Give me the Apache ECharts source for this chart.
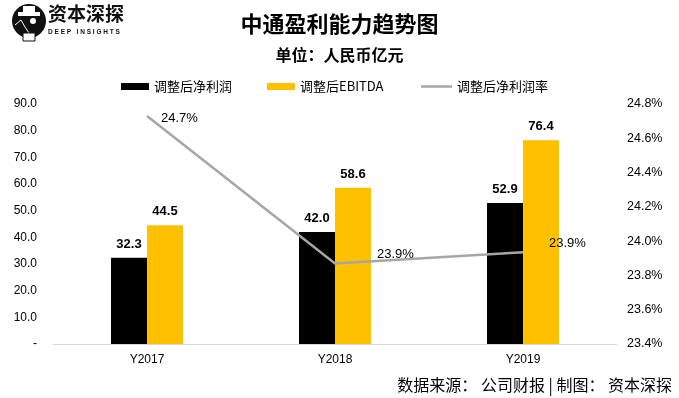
<!DOCTYPE html>
<html><head><meta charset="utf-8">
<script src="https://cdn.jsdelivr.net/npm/echarts@6/dist/echarts.min.js"></script>
<style>html,body{margin:0;padding:0;background:#fff}#c{width:679px;height:398px}</style>
</head><body><div id="c"></div>
<script>
const categories = ['Y2017', 'Y2018', 'Y2019'];
const netProfit = [32.3, 42.0, 52.9];
const ebitda = [44.5, 58.6, 76.4];
const netMargin = [24.73, 23.87, 23.935];
const leftTicks = { min: 0, max: 90, interval: 10 };
const rightTicks = { min: 23.4, max: 24.8, interval: 0.2 };
const seriesNames = ['调整后净利润', '调整后EBITDA', '调整后净利润率'];
const marginLabelOffsets = [[2, 2], [30, -9], [14, -9]];

const CJK = '"Noto Sans CJK SC", sans-serif';
const LAT = '"Liberation Sans", Arial, sans-serif';
const chart = echarts.init(document.getElementById('c'), null, { renderer: 'canvas' });
chart.setOption({
  backgroundColor: '#fff',
  animation: false,
  title: [
    { text: '中通盈利能力趋势图', left: 'center', top: 8,
      textStyle: { fontFamily: CJK, fontSize: 22, fontWeight: 'bold', color: '#000' } },
    { text: '单位：人民币亿元', left: 'center', top: 42,
      textStyle: { fontFamily: CJK, fontSize: 16, fontWeight: 'bold', color: '#000' } },
    { text: '数据来源： 公司财报 | 制图： 资本深探', right: 2, top: 372,
      textStyle: { fontFamily: CJK, fontSize: 16, fontWeight: 'normal', color: '#000' } }
  ],
  legend: [
    { left: 121, top: 80, padding: 0, itemWidth: 28, itemHeight: 7, itemGap: 35,
      textStyle: { fontFamily: CJK, fontSize: 13, color: '#000' },
      data: [
        { name: seriesNames[0], icon: 'rect' },
        { name: seriesNames[1], icon: 'rect' }
      ] },
    { left: 421, top: 80, padding: 0, itemWidth: 31, itemHeight: 2.5,
      textStyle: { fontFamily: CJK, fontSize: 13, color: '#000' },
      data: [ { name: seriesNames[2], icon: 'rect' } ] }
  ],
  grid: { left: 53, right: 62, top: 104, bottom: 54 },
  xAxis: {
    type: 'category', data: categories,
    axisLine: { lineStyle: { color: '#D9D9D9', width: 1 } },
    axisTick: { show: false },
    axisLabel: { fontFamily: LAT, fontSize: 12, color: '#000', margin: 10 }
  },
  yAxis: [
    { type: 'value', min: leftTicks.min, max: leftTicks.max, interval: leftTicks.interval,
      splitLine: { show: false }, axisLine: { show: false }, axisTick: { show: false },
      axisLabel: { fontFamily: LAT, fontSize: 12, color: '#000', margin: 16,
        formatter: v => v === 0 ? '-' : v.toFixed(1) } },
    { type: 'value', min: rightTicks.min, max: rightTicks.max, interval: rightTicks.interval,
      position: 'right',
      splitLine: { show: false }, axisLine: { show: false }, axisTick: { show: false },
      axisLabel: { fontFamily: LAT, fontSize: 12.5, color: '#000', margin: 10,
        formatter: v => v.toFixed(1) + '%' } }
  ],
  series: [
    { name: seriesNames[0], type: 'bar', data: netProfit, barWidth: 36, barGap: '0%',
      itemStyle: { color: '#000000' },
      label: { show: true, position: 'top', distance: 7, fontFamily: LAT, fontSize: 13, fontWeight: 'bold', color: '#000',
        formatter: p => p.value.toFixed(1) } },
    { name: seriesNames[1], type: 'bar', data: ebitda, barWidth: 36,
      itemStyle: { color: '#FFC000' },
      label: { show: true, position: 'top', distance: 7, fontFamily: LAT, fontSize: 13, fontWeight: 'bold', color: '#000',
        formatter: p => p.value.toFixed(1) } },
    { name: seriesNames[2], type: 'line', yAxisIndex: 1, symbol: 'circle', symbolSize: 0.01, showSymbol: true,
      data: netMargin.map((v, i) => ({ value: v, label: { offset: marginLabelOffsets[i] } })),
      itemStyle: { color: '#A6A6A6' },
      lineStyle: { color: '#A6A6A6', width: 2.5 },
      z: 5,
      label: { show: true, position: 'right', distance: 12, fontFamily: LAT, fontSize: 13, color: '#000',
        formatter: p => p.value.toFixed(1) + '%' } }
  ],
  graphic: [
    { type: 'group', left: 12, top: 4, children: [
      { type: 'circle', shape: { cx: 17, cy: 18, r: 17 }, style: { fill: '#111' } },
      { type: 'rect', shape: { x: 6, y: 9, width: 22, height: 4 }, style: { fill: '#fff' } },
      { type: 'rect', shape: { x: 11, y: 3, width: 12, height: 7 }, style: { fill: '#fff' } },
      { type: 'circle', shape: { cx: 21, cy: 18, r: 3 }, style: { fill: '#fff' } },
      { type: 'polyline', shape: { points: [[3, 22], [9, 17], [13, 24], [17, 30]] }, style: { stroke: '#fff', lineWidth: 1, fill: null } },
      { type: 'rect', shape: { x: 11, y: 30, width: 12, height: 8 }, style: { fill: '#fff', stroke: '#111', lineWidth: 1 } }
    ]},
    { type: 'text', left: 48, top: 4, style: { text: '资本深探', font: 'bold 19px "Noto Sans CJK SC"', fill: '#111' } },
    { type: 'text', left: 48, top: 29, style: { text: 'D E E P   I N S I G H T S', font: 'bold 6.5px "Liberation Sans"', fill: '#111' } }
  ]
});
</script></body></html>
